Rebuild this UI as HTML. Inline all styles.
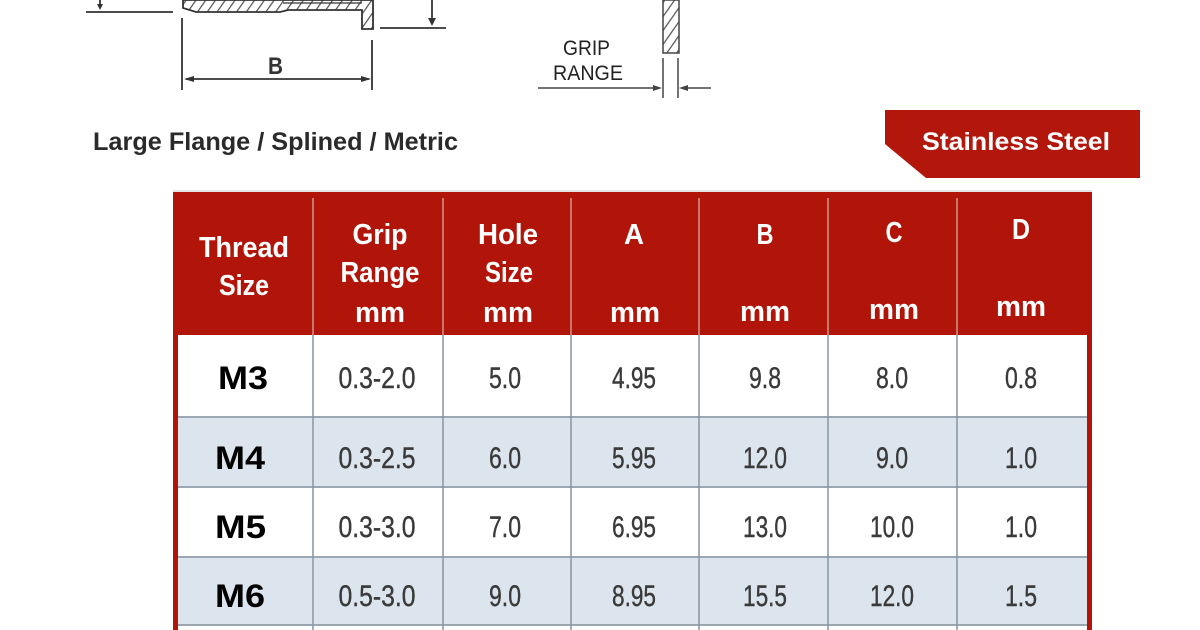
<!DOCTYPE html>
<html><head><meta charset="utf-8"><style>
html,body{margin:0;padding:0;background:#fff;width:1200px;height:630px;overflow:hidden}
svg{display:block}
</style></head><body>
<svg width="1200" height="630" viewBox="0 0 1200 630" xmlns="http://www.w3.org/2000/svg" font-family="'Liberation Sans', sans-serif">
<defs>
<pattern id="h" width="8" height="8" patternUnits="userSpaceOnUse" patternTransform="rotate(35)">
<rect width="8" height="8" fill="#fff"/>
<line x1="0" y1="0" x2="0" y2="8" stroke="#555" stroke-width="2.5"/>
</pattern>
</defs>
<rect width="1200" height="630" fill="#fff"/>

<!-- left diagram -->
<g stroke="#333" fill="none" stroke-width="1.8">
<line x1="86" y1="12" x2="173" y2="12"/>
<line x1="100" y1="0" x2="100" y2="8"/>
<path d="M183,0 L183,8 L196,12 L280,12 L288,10 L362,10 L362,29 L373,29 L373,0 Z" fill="url(#h)"/>
<line x1="283" y1="3" x2="362" y2="3" stroke-width="1.2"/>
<line x1="182" y1="18" x2="182" y2="90"/>
<line x1="372" y1="40" x2="372" y2="90"/>
<line x1="186" y1="79" x2="369" y2="79"/>
<line x1="432" y1="0" x2="432" y2="22"/>
<line x1="380" y1="28" x2="446" y2="28"/>
</g>
<polygon points="184,79 194,76 194,82" fill="#333"/>
<polygon points="371,79 361,76 361,82" fill="#333"/>
<polygon points="432,26 428,18 436,18" fill="#333"/>
<polygon points="100,10 97,4 103,4" fill="#333"/>
<text x="268" y="74" font-size="24" font-weight="bold" fill="#333" textLength="15" lengthAdjust="spacingAndGlyphs">B</text>

<!-- grip diagram -->
<rect x="663" y="0" width="16" height="53" fill="url(#h)" stroke="#444" stroke-width="1.5"/>
<g stroke="#444" stroke-width="1.5">
<line x1="663" y1="58" x2="663" y2="98"/>
<line x1="678" y1="58" x2="678" y2="98"/>
<line x1="538" y1="88" x2="658" y2="88"/>
<line x1="684" y1="88" x2="711" y2="88"/>
</g>
<polygon points="662,88 653,85 653,91" fill="#444"/>
<polygon points="679,88 688,85 688,91" fill="#444"/>
<text x="563" y="55" font-size="21" fill="#222" textLength="47" lengthAdjust="spacingAndGlyphs">GRIP</text>
<text x="553" y="80" font-size="21" fill="#222" textLength="70" lengthAdjust="spacingAndGlyphs">RANGE</text>

<!-- title -->
<text x="93" y="150" font-size="25" font-weight="bold" fill="#2a2a2a" textLength="365" lengthAdjust="spacingAndGlyphs">Large Flange / Splined / Metric</text>

<!-- badge -->
<polygon points="885,110 1140,110 1140,178 926,178 885,144" fill="#b3170c"/>
<text x="922" y="150" font-size="25" font-weight="bold" fill="#fff" textLength="188" lengthAdjust="spacingAndGlyphs">Stainless Steel</text>

<!-- table -->
<line x1="173" y1="191" x2="1092" y2="191" stroke="#c8c8c8" stroke-width="1"/>
<rect x="173" y="192" width="919" height="438" fill="#b11509"/>
<rect x="178" y="335" width="909" height="295" fill="#fff"/>
<rect x="178" y="417" width="909" height="70" fill="#dce5ed"/>
<rect x="178" y="557" width="909" height="68" fill="#dce5ed"/>
<g stroke="#9aa6b2" stroke-width="2">
<line x1="178" y1="417" x2="1087" y2="417"/>
<line x1="178" y1="487" x2="1087" y2="487"/>
<line x1="178" y1="557" x2="1087" y2="557"/>
<line x1="178" y1="625" x2="1087" y2="625"/>
</g>
<g stroke="#d4aaa5" stroke-width="1.3">
<line x1="313" y1="198" x2="313" y2="335"/>
<line x1="443" y1="198" x2="443" y2="335"/>
<line x1="571" y1="198" x2="571" y2="335"/>
<line x1="699" y1="198" x2="699" y2="335"/>
<line x1="828" y1="198" x2="828" y2="335"/>
<line x1="957" y1="198" x2="957" y2="335"/>
</g>
<g stroke="#8c9aa8" stroke-width="1.6">
<line x1="313" y1="335" x2="313" y2="630"/>
<line x1="443" y1="335" x2="443" y2="630"/>
<line x1="571" y1="335" x2="571" y2="630"/>
<line x1="699" y1="335" x2="699" y2="630"/>
<line x1="828" y1="335" x2="828" y2="630"/>
<line x1="957" y1="335" x2="957" y2="630"/>
</g>

<!-- header text -->
<g fill="#fff" font-weight="bold" font-size="29" text-anchor="middle">
<text x="244" y="257" textLength="90" lengthAdjust="spacingAndGlyphs">Thread</text>
<text x="244" y="295" textLength="50" lengthAdjust="spacingAndGlyphs">Size</text>
<text x="380" y="244" textLength="55" lengthAdjust="spacingAndGlyphs">Grip</text>
<text x="380" y="282" textLength="79" lengthAdjust="spacingAndGlyphs">Range</text>
<text x="380" y="322" textLength="50" lengthAdjust="spacingAndGlyphs">mm</text>
<text x="508" y="244" textLength="60" lengthAdjust="spacingAndGlyphs">Hole</text>
<text x="509" y="282" textLength="48" lengthAdjust="spacingAndGlyphs">Size</text>
<text x="508" y="322" textLength="50" lengthAdjust="spacingAndGlyphs">mm</text>
<text x="634" y="244" textLength="20" lengthAdjust="spacingAndGlyphs">A</text>
<text x="635" y="322" textLength="50" lengthAdjust="spacingAndGlyphs">mm</text>
<text x="765" y="244" textLength="17" lengthAdjust="spacingAndGlyphs">B</text>
<text x="765" y="321" textLength="50" lengthAdjust="spacingAndGlyphs">mm</text>
<text x="894" y="242" textLength="17" lengthAdjust="spacingAndGlyphs">C</text>
<text x="894" y="319" textLength="50" lengthAdjust="spacingAndGlyphs">mm</text>
<text x="1021" y="239" textLength="18" lengthAdjust="spacingAndGlyphs">D</text>
<text x="1021" y="316" textLength="50" lengthAdjust="spacingAndGlyphs">mm</text>
</g>

<!-- row labels -->
<g fill="#000" font-weight="bold" font-size="32">
<text x="218" y="389" textLength="50" lengthAdjust="spacingAndGlyphs">M3</text>
<text x="215" y="469" textLength="50" lengthAdjust="spacingAndGlyphs">M4</text>
<text x="215" y="538" textLength="51" lengthAdjust="spacingAndGlyphs">M5</text>
<text x="215" y="607" textLength="50" lengthAdjust="spacingAndGlyphs">M6</text>
</g>

<!-- data -->
<g fill="#3a3a3a" font-size="30" text-anchor="middle" stroke="#3a3a3a" stroke-width="0.4">
<text x="377" y="388" textLength="77" lengthAdjust="spacingAndGlyphs">0.3-2.0</text>
<text x="505" y="388" textLength="32" lengthAdjust="spacingAndGlyphs">5.0</text>
<text x="634" y="388" textLength="44" lengthAdjust="spacingAndGlyphs">4.95</text>
<text x="765" y="388" textLength="32" lengthAdjust="spacingAndGlyphs">9.8</text>
<text x="892" y="388" textLength="32" lengthAdjust="spacingAndGlyphs">8.0</text>
<text x="1021" y="388" textLength="32" lengthAdjust="spacingAndGlyphs">0.8</text>

<text x="377" y="468" textLength="77" lengthAdjust="spacingAndGlyphs">0.3-2.5</text>
<text x="505" y="468" textLength="32" lengthAdjust="spacingAndGlyphs">6.0</text>
<text x="634" y="468" textLength="44" lengthAdjust="spacingAndGlyphs">5.95</text>
<text x="765" y="468" textLength="44" lengthAdjust="spacingAndGlyphs">12.0</text>
<text x="892" y="468" textLength="32" lengthAdjust="spacingAndGlyphs">9.0</text>
<text x="1021" y="468" textLength="32" lengthAdjust="spacingAndGlyphs">1.0</text>

<text x="377" y="537" textLength="77" lengthAdjust="spacingAndGlyphs">0.3-3.0</text>
<text x="505" y="537" textLength="32" lengthAdjust="spacingAndGlyphs">7.0</text>
<text x="634" y="537" textLength="44" lengthAdjust="spacingAndGlyphs">6.95</text>
<text x="765" y="537" textLength="44" lengthAdjust="spacingAndGlyphs">13.0</text>
<text x="892" y="537" textLength="44" lengthAdjust="spacingAndGlyphs">10.0</text>
<text x="1021" y="537" textLength="32" lengthAdjust="spacingAndGlyphs">1.0</text>

<text x="377" y="606" textLength="77" lengthAdjust="spacingAndGlyphs">0.5-3.0</text>
<text x="505" y="606" textLength="32" lengthAdjust="spacingAndGlyphs">9.0</text>
<text x="634" y="606" textLength="44" lengthAdjust="spacingAndGlyphs">8.95</text>
<text x="765" y="606" textLength="44" lengthAdjust="spacingAndGlyphs">15.5</text>
<text x="892" y="606" textLength="44" lengthAdjust="spacingAndGlyphs">12.0</text>
<text x="1021" y="606" textLength="32" lengthAdjust="spacingAndGlyphs">1.5</text>
</g>
</svg>
</body></html>
